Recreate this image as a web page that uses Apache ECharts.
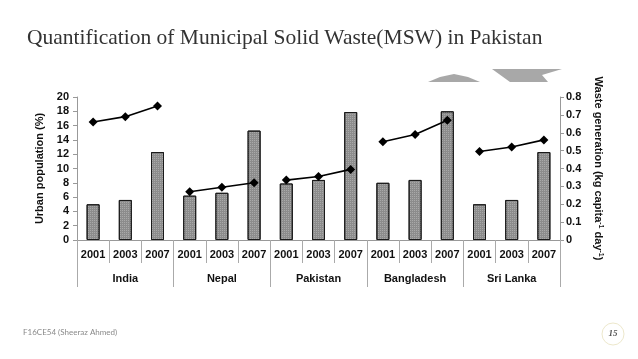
<!DOCTYPE html>
<html>
<head>
<meta charset="utf-8">
<script src="https://cdn.jsdelivr.net/npm/echarts@6/dist/echarts.min.js"></script>
<style>html,body{margin:0;padding:0;background:#fff;}#c{width:638px;height:359px;}</style>
</head>
<body>
<div id="c"></div>
<script>
var countries = ['India', 'Nepal', 'Pakistan', 'Bangladesh', 'Sri Lanka'];
var years = ['2001', '2003', '2007'];
var urbanPop = [5.0, 5.6, 12.3, 6.2, 6.6, 15.3, 7.9, 8.4, 17.9, 8.0, 8.4, 18.0, 5.0, 5.6, 12.3];
var wasteGen = [0.66, 0.69, 0.75, 0.27, 0.295, 0.32, 0.335, 0.355, 0.395, 0.55, 0.59, 0.67, 0.495, 0.52, 0.56];
var leftTicks = {min: 0, max: 20, interval: 2};
var rightTicks = {min: 0, max: 0.8, interval: 0.1};

var cats = [];
countries.forEach(function (c) { years.forEach(function (y) { cats.push(c + '|' + y); }); });

var lab = {fontFamily: 'Liberation Sans', fontWeight: 'bold', fontSize: 11, color: '#111'};

var lineSeries = countries.map(function (c, ci) {
  var d = cats.map(function (_, i) { return Math.floor(i / 3) === ci ? wasteGen[i] : '-'; });
  return {
    type: 'line', xAxisIndex: 0, yAxisIndex: 1, data: d,
    symbol: 'diamond', symbolSize: 9, connectNulls: false,
    lineStyle: {color: '#000', width: 1.6},
    itemStyle: {color: '#000'}, z: 5
  };
});

var chart = echarts.init(document.getElementById('c'), null, {renderer: 'canvas'});
chart.setOption({
  animation: false,
  backgroundColor: '#fff',
  title: {
    text: 'Quantification of Municipal Solid Waste(MSW) in Pakistan',
    left: 22, top: 22,
    textStyle: {fontFamily: 'Liberation Serif', fontWeight: 'normal', fontSize: 21.5, color: '#333'}
  },
  grid: {left: 77, right: 78, top: 97, bottom: 119},
  xAxis: [{
    type: 'category', data: cats, position: 'bottom',
    axisLine: {lineStyle: {color: '#999'}},
    axisTick: {show: true, interval: 0, length: 23, lineStyle: {color: '#aaa'}},
    axisLabel: Object.assign({margin: 9, interval: 0, formatter: function (v) { return v.split('|')[1]; }}, lab)
  }, {
    type: 'category', data: countries, position: 'bottom',
    axisLine: {show: false},
    axisTick: {show: true, interval: 0, length: 47, lineStyle: {color: '#aaa'}},
    axisLabel: Object.assign({margin: 33, interval: 0}, lab)
  }],
  yAxis: [{
    type: 'value', min: leftTicks.min, max: leftTicks.max, interval: leftTicks.interval,
    name: 'Urban population (%)', nameLocation: 'middle', nameGap: 20, nameRotate: 90,
    nameTextStyle: {fontFamily: 'Liberation Sans', fontWeight: 'bold', fontSize: 11, color: '#111'},
    axisLine: {show: true, lineStyle: {color: '#999'}},
    axisTick: {show: true, length: 4, lineStyle: {color: '#999'}},
    splitLine: {show: false},
    axisLabel: Object.assign({margin: 8}, lab)
  }, {
    type: 'value', min: rightTicks.min, max: rightTicks.max, interval: rightTicks.interval,
    position: 'right',
    name: '{a|Waste generation (kg capita}{s|-1}{a| day}{s|-1}{a|)}', nameLocation: 'middle', nameGap: 31, nameRotate: -90,
    nameTextStyle: {rich: {
      a: {fontFamily: 'Liberation Sans', fontWeight: 'bold', fontSize: 11, color: '#111'},
      s: {fontFamily: 'Liberation Sans', fontWeight: 'bold', fontSize: 7, color: '#111', verticalAlign: 'top', padding: [0, 0, 6, 0]}
    }},
    axisLine: {show: true, lineStyle: {color: '#999'}},
    axisTick: {show: true, length: 4, lineStyle: {color: '#999'}},
    splitLine: {show: false},
    axisLabel: Object.assign({margin: 6, formatter: function (v) { return v === 0 ? '0' : v.toFixed(1); }}, lab)
  }],
  series: [{
    type: 'bar', xAxisIndex: 0, yAxisIndex: 0, data: urbanPop, barWidth: 13,
    itemStyle: {
      color: '#8c8c8c', borderColor: '#1a1a1a', borderWidth: 1,
      decal: {symbol: 'rect', symbolSize: 1, color: 'rgba(255,255,255,0.25)', dashArrayX: [1, 1], dashArrayY: [1, 1], rotation: 0}
    }
  }].concat(lineSeries),
  graphic: [
    {type: 'polygon', shape: {points: [[428, 82], [440, 77], [454, 74], [468, 77], [480, 82]]}, style: {fill: '#a8a8a8'}, silent: true},
    {type: 'polygon', shape: {points: [[492, 69], [562, 69], [542, 75], [548, 82], [510, 82]]}, style: {fill: '#a8a8a8'}, silent: true},
    {type: 'text', left: 23, top: 328, style: {text: 'F16CE54 (Sheeraz Ahmed)', fontFamily: 'Lato', fontSize: 8, fill: '#8a8a8a'}},
    {type: 'circle', shape: {cx: 613, cy: 334, r: 11}, style: {fill: 'none', stroke: '#ede8cc', lineWidth: 1}},
    {type: 'text', x: 613, y: 334, style: {text: '15', fontFamily: 'Liberation Serif', fontStyle: 'italic', fontWeight: 'bold', fontSize: 9, fill: '#555', align: 'center', verticalAlign: 'middle'}}
  ]
});
</script>
</body>
</html>
